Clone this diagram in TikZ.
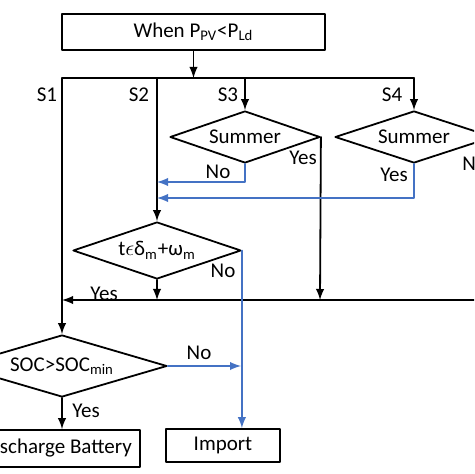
\documentclass[tikz,border=0pt]{standalone}
\usepackage{fontspec}
\setmainfont{Carlito}
\usetikzlibrary{shapes.geometric,arrows}
\definecolor{noblue}{RGB}{68,114,196}

\tikzset{
  procbox/.style={draw,line width=0.9pt,rectangle,inner sep=0pt},
  decbox/.style={draw,line width=0.9pt,diamond,inner sep=0pt},
  flow/.style={line width=0.9pt},
  noflow/.style={line width=0.9pt,color=noblue},
  lbl/.style={inner sep=0pt}
}

\begin{document}
\begin{tikzpicture}
      [line cap=round,line join=round,x=0.5pt,y=-0.5pt,font=\fontsize{10.5}{12}\selectfont]

\useasboundingbox (0,0) rectangle (474,474);
\clip (0,0) rectangle (474,474);

%boxes and decisions
  \node[procbox,minimum width=131.5pt,minimum height=18pt] (when) at (193.5,32) {When P\textsubscript{PV}<P\textsubscript{Ld}};
  \node[decbox,minimum width=75pt,minimum height=26pt,aspect=2.9] (sum3) at (245,137) {Summer};
  \node[decbox,minimum width=79pt,minimum height=26pt,aspect=3] (sum4) at (414,137) {Summer};
  \node[decbox,minimum width=84pt,minimum height=28.5pt,aspect=2.9] (tdel) at (157,250.5) {t$\epsilon$δ\textsubscript{m}+ω\textsubscript{m}};
  \node[decbox,minimum width=105pt,minimum height=31pt,aspect=3.4] (soc) at (62,366) {SOC>SOC\textsubscript{min}};
  \node[procbox,minimum width=83pt,minimum height=18.5pt] (disch) at (57,448.5) {Discharge Battery};
  \node[procbox,minimum width=57pt,minimum height=16.5pt] (import) at (223,445.5) {Import};

%junctions
  \coordinate (split) at (193.5,78);
  \coordinate (s1) at (62,78);
  \coordinate (s2) at (157,78);
  \coordinate (s3) at (245,78);
  \coordinate (s4) at (414,78);
  \coordinate (busR) at (490,300);
  \coordinate (busL) at (62,300);
  \coordinate (n3) at (157,182);
  \coordinate (y4) at (157,198);
  \coordinate (t3) at (320,300);
  \coordinate (tn) at (241,366);

%main layer
  \draw[flow,-latex] (when) -- (split);
  \draw[flow] (s1) -- (s4);
  \draw[flow,-latex] (s1) -- (soc.north);
  \draw[flow,-latex] (s2) -- (tdel.north);
  \draw[flow,-latex] (s3) -- (sum3.north);
  \draw[flow,-latex] (s4) -- (sum4.north);
  \draw[flow,-latex] (sum3.east) -- (t3);
  \draw[flow,-latex] (tdel.south) -- (tdel.south |- busL);
  \draw[flow,-latex] (busR) -- (busL);
  \draw[flow,-latex] (soc.south) -- (soc.south |- disch.north);

%no branches
  \draw[noflow,-latex] (sum3.south) |- (n3);
  \draw[noflow,-latex] (sum4.south) |- (y4);
  \draw[noflow,-latex] (tdel.east) -- (tdel.east |- import.north);
  \draw[noflow,-latex] (soc.east) -- (tn);

%labels
  \node[lbl] (l1) at (47,95) {S1};
  \node[lbl] (l2) at (139,95) {S2};
  \node[lbl] (l3) at (228,95) {S3};
  \node[lbl] (l4) at (392,95) {S4};
  \node[lbl] (y3) at (303,158) {Yes};
  \node[lbl] (no3) at (218,172) {No};
  \node[lbl] (ys4) at (394,175) {Yes};
  \node[lbl,anchor=west] (no4) at (462,164) {No};
  \node[lbl] (notd) at (223,271) {No};
  \node[lbl] (ytd) at (104,294) {Yes};
  \node[lbl] (nosoc) at (199,353) {No};
  \node[lbl] (ysoc) at (86,411) {Yes};

\end{tikzpicture}
\end{document}
